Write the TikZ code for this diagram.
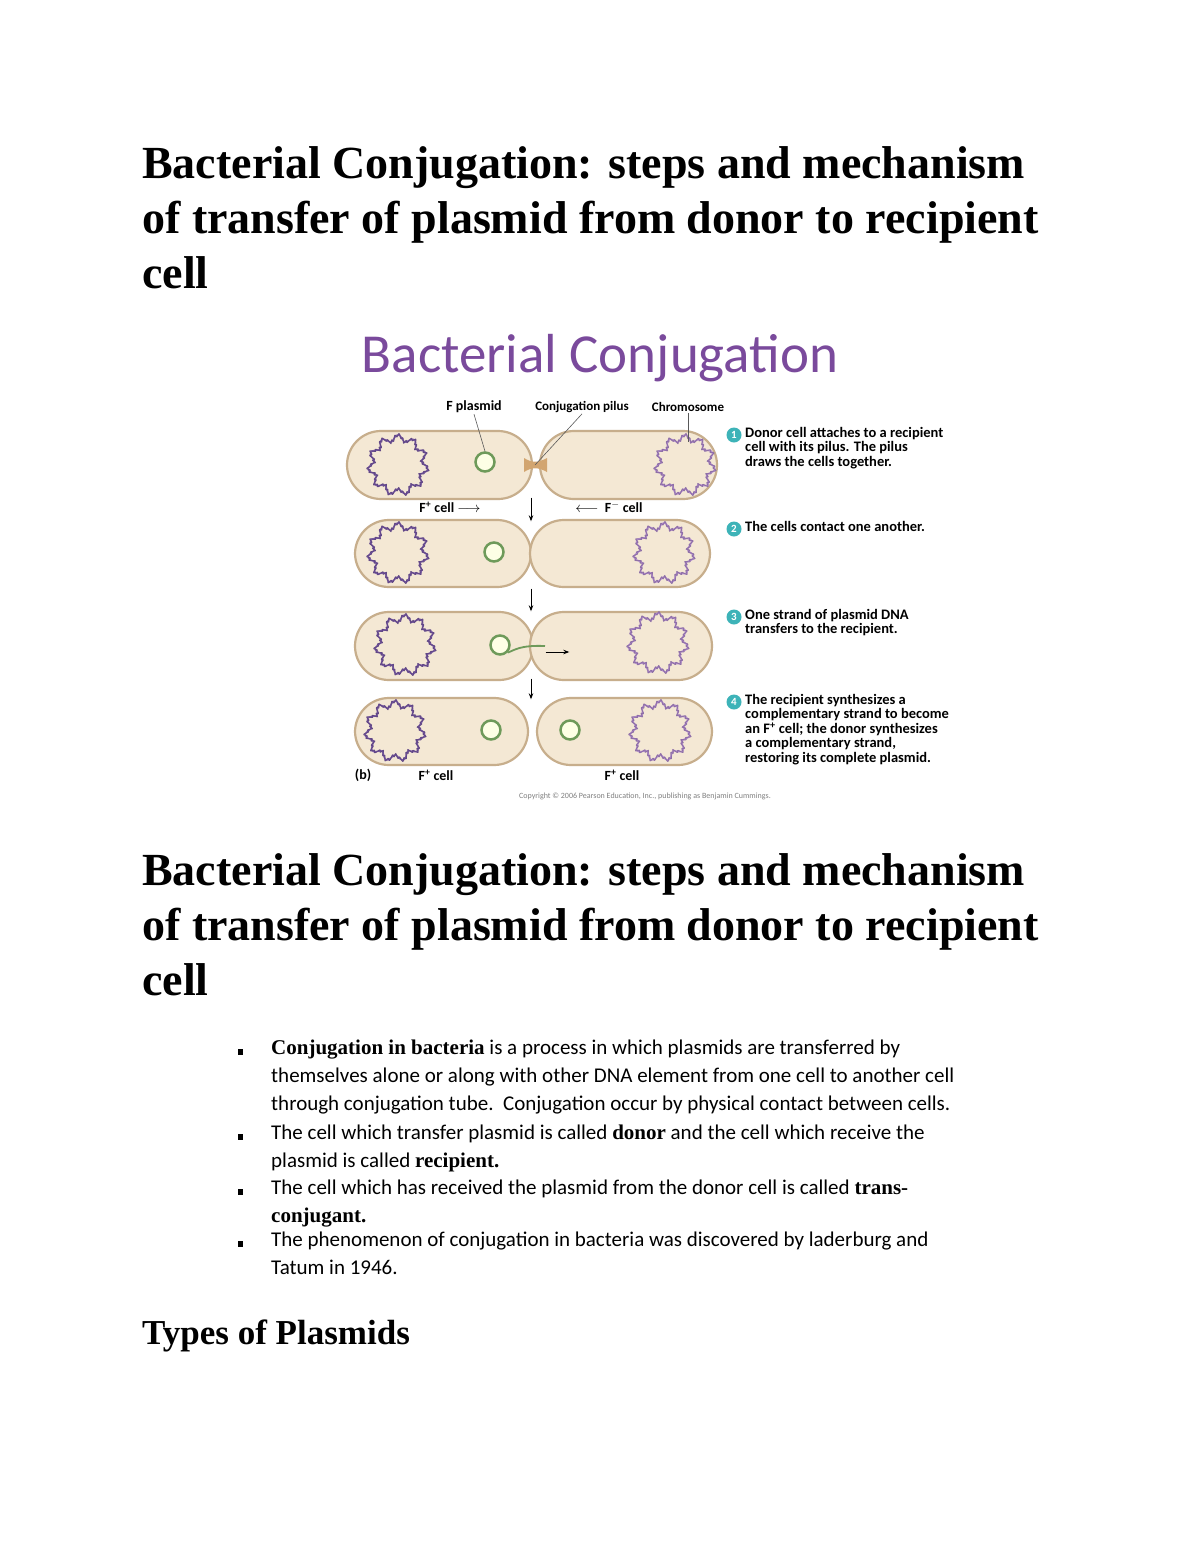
\documentclass[tikz,border=0pt]{standalone}
\usepackage{fontspec}
\setmainfont{Liberation Serif}
\newfontfamily\carl{Carlito}
\usetikzlibrary{arrows.meta}
\definecolor{cellfill}{HTML}{F4E8D4}
\definecolor{cellline}{HTML}{C7AE8C}
\definecolor{ttl}{HTML}{7A4A9C}
\definecolor{chrL}{HTML}{7A5AA8}
\definecolor{chrR}{HTML}{B38CD0}
\definecolor{plas}{HTML}{6E9A5A}
\definecolor{tealc}{HTML}{3DB3B8}
\tikzset{
 cellbox/.style={draw=cellline,line width=2.2pt,fill=cellfill,rounded corners=34pt},
 plasmid/.style={draw=plas,line width=2.5pt,fill=green!8!yellow!10,circle,minimum size=19pt,inner sep=0},
 lbl/.style={font=\carl\bfseries\fontsize{14}{16}\selectfont,inner sep=1pt},
 steptext/.style={font=\carl\bfseries\fontsize{14.5}{14.5}\selectfont,align=left,anchor=north west,inner sep=0},
 num/.style={circle,fill=tealc,text=white,font=\carl\bfseries\fontsize{11}{11}\selectfont,inner sep=0,minimum size=15pt},
 bigtitle/.style={font=\bfseries\fontsize{46}{55}\selectfont,anchor=north west,align=left,inner sep=0},
 body/.style={font=\carl\fontsize{21}{28}\selectfont,anchor=north west,align=left,inner sep=0},
 dn/.style={-{Stealth[length=6pt]},line width=1pt}
}
\newcommand{\chrom}[3]{%
\draw[#3,line width=1.5pt] plot[domain=0:360,samples=300,smooth] ({#1+(27+3*sin(11*\x))*cos(\x)},{#2+(27+3*sin(11*\x))*sin(\x)});%
\draw[#3!80!black,line width=1pt] plot[domain=0:360,samples=400,smooth] ({#1+(27+3*sin(11*\x)+1.6*sin(44*\x))*cos(\x)},{#2+(27+3*sin(11*\x)+1.6*sin(44*\x))*sin(\x)});}
\newcommand{\bb}[1]{{\fontspec{Liberation Serif}\bfseries #1}}
\begin{document}
\begin{tikzpicture}[x=1pt,y=-1pt]
\useasboundingbox (0,0) rectangle (1200,1553);
\fill[white] (0,0) rectangle (1200,1553);
\node[bigtitle] (t1) at (142,146) {Bacterial Conjugation: steps and mechanism\\of transfer of plasmid from donor to recipient\\cell};
\node[font=\carl\fontsize{55}{55}\selectfont,text=ttl,inner sep=0] (dt) at (600,358) {Bacterial Conjugation};
% row 1
\draw[cellbox] (347,431) rectangle (532,499);
\draw[cellbox] (540,431) rectangle (717,499);
\fill[cellline!80!orange] (524,458) .. controls (532,463) and (538,463) .. (547,458) -- (547,472) .. controls (538,467) and (532,467) .. (524,472) -- cycle;
\coordinate (pil) at (535,465);
\chrom{398}{465}{chrL}\chrom{685}{465}{chrR}
\node[plasmid] (p1) at (485,462) {};
\coordinate (ch1) at (688,442);
% row 2
\draw[cellbox] (355,520) rectangle (531,587);
\draw[cellbox] (530,520) rectangle (710,587);
\chrom{398}{553}{chrL}\chrom{664}{553}{chrR}
\node[plasmid] (p2) at (494,552) {};
% row 3
\draw[cellbox] (355,612) rectangle (533,680);
\draw[cellbox] (530,612) rectangle (712,680);
\chrom{405}{645}{chrL}\chrom{658}{643}{chrR}
\node[plasmid] (p3) at (500,645) {};
\draw[plas,line width=1.8pt] (p3.south east) .. controls (515,650) and (520,645) .. (545,646);
\node[inner sep=0] (s3a) at (545,652) {};\node[inner sep=0] (s3b) at (570,652) {};
\draw[dn] (s3a) -- (s3b);
% row 4
\draw[cellbox] (355,698) rectangle (528,765);
\draw[cellbox] (537,698) rectangle (712,765);
\chrom{395}{731}{chrL}\chrom{660}{731}{chrR}
\node[plasmid] (p4) at (491,730) {};
\node[plasmid] (p5) at (570,730) {};
% labels
\node[lbl] (lf) at (474,407) {F plasmid};
\node[lbl,font=\carl\bfseries\fontsize{13}{14}\selectfont] (lc) at (582,407) {Conjugation pilus};
\node[lbl,font=\carl\bfseries\fontsize{13}{14}\selectfont] (lch) at (688,407) {Chromosome};
\draw[gray!70!black,line width=0.6pt] (lf.south) -- (p1.north);
\draw[gray!70!black,line width=0.6pt] (lc.south) -- (pil);
\draw[gray!70!black,line width=0.6pt] (lch.south) -- (ch1);
\node[lbl] (fp) at (450,507) {F\textsuperscript{+} cell $\longrightarrow$};
\node[lbl] (fm) at (609,507) {$\longleftarrow$\ \ F\textsuperscript{$-$} cell};
\node[inner sep=0] (a1) at (531,497) {};\node[inner sep=0] (a2) at (531,522) {};
\draw[dn] (a1) -- (a2);
\node[inner sep=0] (a3) at (531,588) {};\node[inner sep=0] (a4) at (531,612) {};
\draw[dn] (a3) -- (a4);
\node[inner sep=0] (a5) at (531,678) {};\node[inner sep=0] (a6) at (531,700) {};
\draw[dn] (a5) -- (a6);
\node[lbl] (b) at (363,775) {(b)};
\node[lbl] (f1) at (436,775) {F\textsuperscript{+} cell};
\node[lbl] (f2) at (622,775) {F\textsuperscript{+} cell};
\node[font=\carl\fontsize{8}{8}\selectfont,text=gray] (cp) at (645,796) {Copyright \copyright\ 2006 Pearson Education, Inc., publishing as Benjamin Cummings.};
% steps
\node[num] (n1) at (734,435) {1};
\node[steptext] (s1) at (745,427) {Donor cell attaches to a recipient\\cell with its pilus. The pilus\\draws the cells together.};
\node[num] (n2) at (734,529) {2};
\node[steptext] (s2) at (745,521) {The cells contact one another.};
\node[num] (n3) at (734,617) {3};
\node[steptext] (s3) at (745,609) {One strand of plasmid DNA\\transfers to the recipient.};
\node[num] (n4) at (734,702) {4};
\node[steptext] (s4) at (745,694) {The recipient synthesizes a\\complementary strand to become\\an F\textsuperscript{+} cell; the donor synthesizes\\a complementary strand,\\restoring its complete plasmid.};
% second title
\node[bigtitle] (t2) at (142,853) {Bacterial Conjugation: steps and mechanism\\of transfer of plasmid from donor to recipient\\cell};
% bullets
\foreach \y in {1055,1140,1195,1247}{\fill (238,\y) rectangle +(5,-6);}
\node[body] (b1) at (271,1040) {\bb{Conjugation in bacteria} is a process in which plasmids are transferred by\\themselves alone or along with other DNA element from one cell to another cell\\through conjugation tube.\ \ Conjugation occur by physical contact between cells.};
\node[body] (b2) at (271,1125) {The cell which transfer plasmid is called \bb{donor} and the cell which receive the\\plasmid is called \bb{recipient.}};
\node[body] (b3) at (271,1180) {The cell which has received the plasmid from the donor cell is called \bb{trans-}\\\bb{conjugant.}};
\node[body] (b4) at (271,1232) {The phenomenon of conjugation in bacteria was discovered by laderburg and\\Tatum in 1946.};
\node[font=\bfseries\fontsize{35}{36}\selectfont,anchor=north west,inner sep=0] (tp) at (142,1320) {Types of Plasmids};
\end{tikzpicture}
\end{document}
